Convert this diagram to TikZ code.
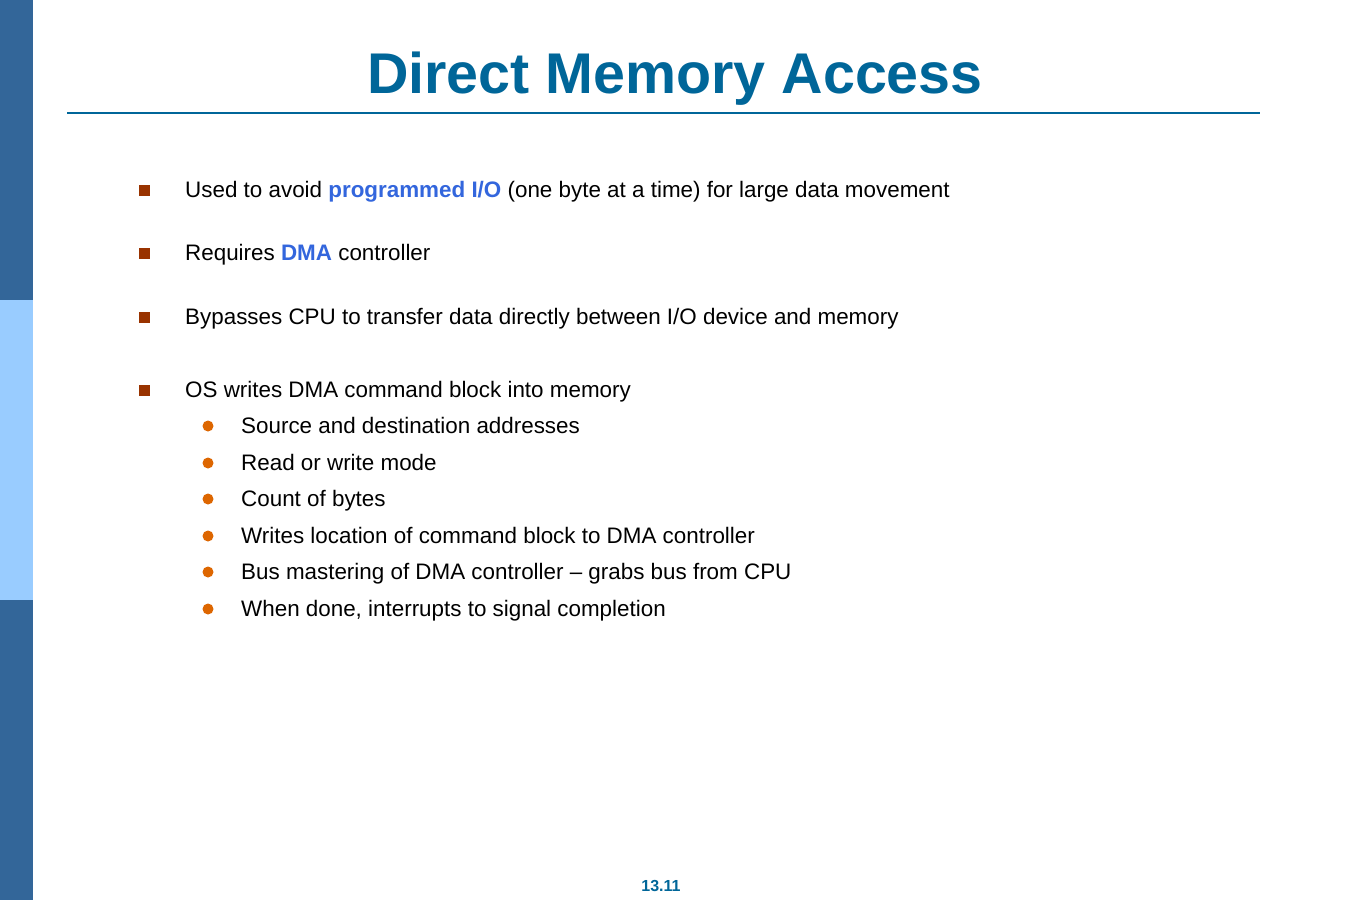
\documentclass[tikz,border=0pt]{standalone}
\usepackage{fontspec}
\setmainfont{Liberation Sans}
\definecolor{dkblue}{HTML}{336699}
\definecolor{ltblue}{HTML}{99CCFF}
\definecolor{ttl}{HTML}{006699}
\definecolor{hl}{HTML}{3366DD}
\definecolor{sq}{HTML}{993300}
\definecolor{dot}{HTML}{DD6600}
\begin{document}
\begin{tikzpicture}[x=1pt,y=-1pt,
  txt/.style={anchor=base west,inner sep=0pt,font=\fontsize{22.4}{26}\selectfont},
  sqb/.style={fill=sq,minimum size=11pt,inner sep=0pt},
  dtb/.style={circle,fill=dot,minimum size=11pt,inner sep=0pt}]
\useasboundingbox (0,0) rectangle (1350,900);
\fill[white] (0,0) rectangle (1350,900);
\fill[dkblue] (0,0) rectangle (33,300);
\fill[ltblue] (0,300) rectangle (33,600);
\fill[dkblue] (0,600) rectangle (33,900);
\node[anchor=base,inner sep=0pt,text=ttl,font=\fontsize{57.4}{68}\selectfont\bfseries] (title) at (675,93) {Direct Memory Access};
\draw[ttl,line width=1.2pt] (67,113) -- (1260,113);
\foreach \y/\t [count=\i] in {
 197/{Used to avoid \textcolor{hl}{\bfseries programmed I/O} (one byte at a time) for large data movement},
 260/{Requires \textcolor{hl}{\bfseries DMA} controller},
 324/{Bypasses CPU to transfer data directly between I/O device and memory},
 397/{OS writes DMA command block into memory}} {
 \node[sqb] (s\i) at (144,\y-7) {};
 \node[txt] (t\i) at (185,\y) {\t};
}
\foreach \y/\t [count=\i] in {
 433/{Source and destination addresses},
 470/{Read or write mode},
 506/{Count of bytes},
 543/{Writes location of command block to DMA controller},
 579/{Bus mastering of DMA controller – grabs bus from CPU},
 616/{When done, interrupts to signal completion}} {
 \node[dtb] (d\i) at (208,\y-7) {};
 \node[txt] (u\i) at (241,\y) {\t};
}
\node[anchor=base,inner sep=0pt,text=ttl,font=\fontsize{16}{19}\selectfont\bfseries] (pg) at (661,891) {13.11};
\end{tikzpicture}
\end{document}
